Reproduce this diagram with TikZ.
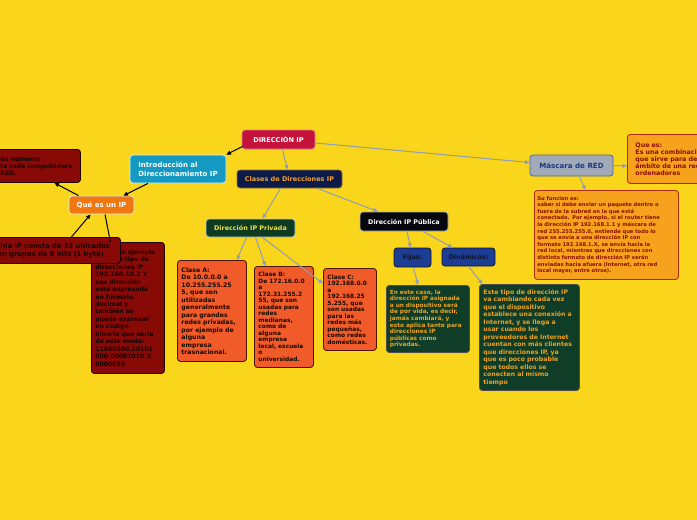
\documentclass[tikz,border=0pt]{standalone}
\usepackage{fontspec}
\setmainfont{DejaVu Sans}
\usetikzlibrary{arrows.meta}
\definecolor{bg}{HTML}{F9D51B}
\definecolor{dirF}{HTML}{C4123A}
\definecolor{dirD}{HTML}{E8809A}
\definecolor{introF}{HTML}{1499C2}
\definecolor{introD}{HTML}{D8F2F8}
\definecolor{navyF}{HTML}{0C1A48}
\definecolor{navyT}{HTML}{F2A232}
\definecolor{greenF}{HTML}{0D3B22}
\definecolor{greenT}{HTML}{F5E03C}
\definecolor{boxgreen}{HTML}{0F3D28}
\definecolor{boxgreenT}{HTML}{F0A21E}
\definecolor{pubF}{HTML}{07070F}
\definecolor{blueF}{HTML}{1D3D92}
\definecolor{blueT}{HTML}{0A1434}
\definecolor{mascF}{HTML}{A2AAB8}
\definecolor{mascD}{HTML}{4A6898}
\definecolor{mascT}{HTML}{1C3A82}
\definecolor{orF}{HTML}{F7A21C}
\definecolor{orD}{HTML}{B02A06}
\definecolor{orT}{HTML}{8A0E00}
\definecolor{qipF}{HTML}{F07812}
\definecolor{redF}{HTML}{870A06}
\definecolor{redT}{HTML}{1A0000}
\definecolor{claseF}{HTML}{F15A29}
\definecolor{claseD}{HTML}{4A1400}
\definecolor{claseT}{HTML}{1A0800}
\definecolor{conn}{HTML}{8E9DB6}
\newcommand{\fz}[2]{\fontsize{#1}{#2}\selectfont\bfseries}
\begin{document}
\begin{tikzpicture}[x=1pt,y=-1pt,
  title/.style={draw, rounded corners=3pt, line width=0.8pt, inner sep=0pt, align=center},
  tbox/.style={draw, rounded corners=3pt, line width=0.9pt, anchor=north west, align=left, inner ysep=2pt},
  garr/.style={draw=conn, line width=1pt, -{Triangle[length=4.5pt,width=4pt]}},
  barr/.style={draw=black, line width=1pt, -{Triangle[length=4.5pt,width=4pt]}},
  bline/.style={draw=black, line width=1pt}]
\clip (0,0) rectangle (697,520);
\fill[bg] (0,0) rectangle (697,520);

% title nodes
\node[title, fill=dirF, draw=dirD, text=white, minimum width=73pt, minimum height=19pt, font=\fz{6.6}{8}] (dir) at (278.5,139.5) {DIRECCIÓN IP};
\node[title, fill=introF, draw=introD, text=white, minimum width=96pt, minimum height=28pt, font=\fz{7}{9}, align=left] (intro) at (178,169) {Introducción al\\Direccionamiento IP};
\node[title, fill=navyF, draw=navyT!60!navyF, text=navyT, minimum width=105pt, minimum height=18pt, font=\fz{6.5}{8}] (clases) at (289.5,179) {Clases de Direcciones IP};
\node[title, fill=greenF, draw=white!75!greenF, text=greenT, minimum width=89pt, minimum height=18pt, font=\fz{6.4}{8}] (priv) at (250.5,228) {Dirección IP Privada};
\node[title, fill=pubF, draw=gray!60, text=white, minimum width=88pt, minimum height=19pt, font=\fz{6.4}{8}] (pub) at (404,221.5) {Dirección IP Pública};
\node[title, fill=blueF, draw=blueT, text=blueT, minimum width=37pt, minimum height=19pt, font=\fz{6.4}{8}] (fij) at (412.5,257.5) {Fijas:};
\node[title, fill=blueF, draw=blueT, text=blueT, minimum width=53pt, minimum height=18pt, font=\fz{6.4}{8}] (din) at (468.5,257) {Dinámicas:};
\node[title, fill=mascF, draw=mascD, text=mascT, minimum width=83pt, minimum height=21pt, font=\fz{7.1}{9}] (masc) at (571.5,165.5) {Máscara de RED};
\node[title, fill=qipF, draw=introD, text=white, minimum width=65pt, minimum height=18pt, font=\fz{7}{8}] (qip) at (101.5,205) {Qué es un IP};

% text boxes
\node[tbox, fill=orF, draw=orD, text=orT, text width=150pt, inner xsep=8pt, minimum height=49pt, font=\fz{6.3}{7}] (quees) at (627,134) {Que es:\\Es una combinación de bits\\que sirve para delimitar el\\ámbito de una red de\\ordenadores};
\node[tbox, fill=orF, draw=orD, text=orT, text width=138pt, inner xsep=3pt, minimum height=89pt, font=\fz{5.2}{6.6}] (func) at (534,190) {Su funcion es:\\saber si debe enviar un paquete dentro o\\fuera de la subred en la que está\\conectado. Por ejemplo, si el router tiene\\la dirección IP 192.168.1.1 y máscara de\\red 255.255.255.0, entiende que todo lo\\que se envía a una dirección IP con\\formato 192.168.1.X, se envía hacia la\\red local, mientras que direcciones con\\distinto formato de dirección IP serán\\enviadas hacia afuera (Internet, otra red\\local mayor, entre otros).};
\node[tbox, fill=redF, draw=redT, text=redT, text width=76pt, inner xsep=4pt, minimum height=33pt, font=\fz{6.0}{7.2}] (tl) at (-4,149) {de números\\ta cada computadora\\RED.};
\node[tbox, fill=redF, draw=redT, text=redT, text width=65pt, inner xsep=4pt, minimum height=131pt, font=\fz{6.1}{7.45}] (tall) at (91,242) {\hphantom{Un clal}ro ejemplo\\\hphantom{de estl}e tipo de\\direcciones IP\\192.168.10.2 Y\\esa dirección\\esta expresada\\en formato\\decimal y\\también se\\puede expresar\\en código\\binario que sería\\de este modo:\\11000000.10101\\000.00001010.0\\0000010};
\node[tbox, fill=redF, draw=redT, text=redT, text width=118pt, inner xsep=5pt, minimum height=26pt, font=\fz{6.8}{8}] (una) at (-8,237) {Una IP consta de 32 ubicados\\en grupos de 8 bits (1 byte)};
\node[tbox, fill=claseF, draw=claseD, text=claseT, text width=61pt, inner xsep=4pt, minimum height=101pt, font=\fz{6.2}{7.5}] (ca) at (177,260) {Clase A:\\De 10.0.0.0 a\\10.255.255.25\\5, que son\\utilizadas\\generalmente\\para grandes\\redes privadas,\\por ejemplo de\\alguna\\empresa\\trasnacional.};
\node[tbox, fill=claseF, draw=claseD, text=claseT, text width=51pt, inner xsep=4pt, minimum height=101pt, font=\fz{5.9}{6.5}] (cb) at (254,266) {Clase B:\\De 172.16.0.0\\a\\172.31.255.2\\55, que son\\usadas para\\redes\\medianas,\\como de\\alguna\\empresa\\local, escuela\\o\\universidad.};
\node[tbox, fill=claseF, draw=claseD, text=claseT, text width=45pt, inner xsep=4pt, minimum height=82pt, font=\fz{5.9}{6.5}] (cc) at (323,268) {Clase C:\\192.168.0.0\\a\\192.168.25\\5.255, que\\son usadas\\para las\\redes más\\pequeñas,\\como redes\\domésticas.};
\node[tbox, fill=boxgreen, draw=black!70, text=boxgreenT, text width=76pt, inner xsep=3.5pt, minimum height=67pt, font=\fz{5.8}{6.6}] (fijtxt) at (386,285) {En este caso, la\\dirección IP asignada\\a un dispositivo será\\de por vida, es decir,\\jamás cambiará, y\\esto aplica tanto para\\direcciones IP\\públicas como\\privadas.};
\node[tbox, fill=boxgreen, draw=black!70, text=boxgreenT, text width=92pt, inner xsep=4pt, minimum height=106pt, font=\fz{6.2}{7.5}] (dintxt) at (479,284) {Este tipo de dirección IP\\va cambiando cada vez\\que el dispositivo\\establece una conexión a\\Internet, y se llega a\\usar cuando los\\proveedores de Internet\\cuentan con más clientes\\que direcciones IP, ya\\que es poco probable\\que todos ellos se\\conecten al mismo\\tiempo};

% connectors
\draw[barr] ([xshift=1pt,yshift=3pt]dir.south west) -- (intro.north east);
\draw[garr] ([xshift=4pt]dir.south) -- ([xshift=-2pt]clases.north);
\draw[garr] ([yshift=-3.5pt]dir.east) -- ([yshift=3pt]masc.west);
\draw[barr] ([xshift=-30pt]intro.south) -- ([xshift=22pt]qip.north);
\draw[barr] ([xshift=-23pt]qip.north) -- ([xshift=16pt]tl.south);
\draw[barr] ([xshift=15pt]una.north) -- ([xshift=-11pt]qip.south);
\draw[bline] ([xshift=3.5pt]qip.south) -- ([xshift=-17.5pt]tall.north);
\draw[garr] ([xshift=-9pt]clases.south) -- ([xshift=12pt]priv.north);
\draw[garr] ([xshift=28pt]clases.south) -- ([xshift=-26pt]pub.north);
\draw[garr] ([xshift=-4pt]priv.south) -- ([xshift=25pt]ca.north);
\draw[garr] ([xshift=5pt]priv.south) -- ([xshift=-18.5pt]cb.north);
\draw[garr] ([xshift=12pt]priv.south) -- ([yshift=26pt]cc.west);
\draw[garr] ([xshift=3pt]pub.south) -- ([xshift=-2pt]fij.north);
\draw[garr] ([xshift=19pt]pub.south) -- ([xshift=-16pt]din.north);
\draw[garr] ([xshift=1pt]fij.south) -- ([xshift=-10pt]fijtxt.north);
\draw[garr] (din.south) -- ([xshift=-47pt]dintxt.north);
\draw[garr] (masc.east) -- ([yshift=-7pt]quees.west);
\draw[garr] ([xshift=8pt]masc.south) -- ([xshift=-21pt]func.north);
\end{tikzpicture}
\end{document}
